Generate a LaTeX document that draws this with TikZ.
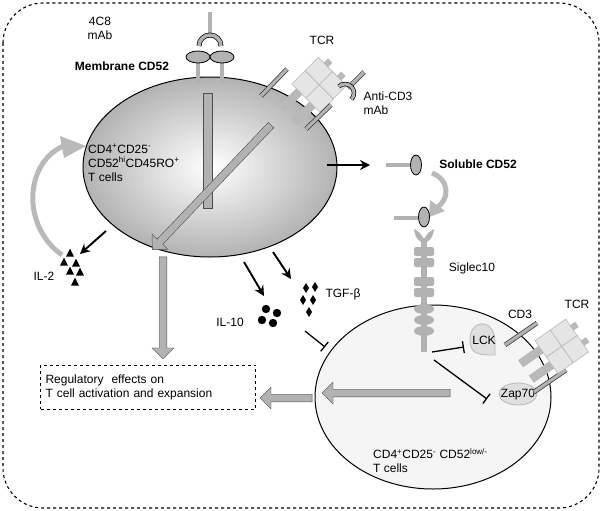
\documentclass[tikz,border=0pt]{standalone}
\usepackage{fontspec}
\setmainfont{Liberation Sans}
\usetikzlibrary{shapes.arrows,arrows.meta,shapes.geometric}
\begin{document}
\begin{tikzpicture}[x=1pt,y=-1pt,font=\fontsize{12}{14}\selectfont,
  rod/.style={double=gray!60,double distance=3.2pt,line width=0.7pt,draw=black!80},
  garrow/.style={single arrow,draw=black!70,fill=gray!60,inner sep=3.6pt,minimum width=17pt,single arrow head indent=0pt,minimum height=#1,anchor=center},
  blk/.style={-{Stealth[length=10pt,width=10pt]},line width=1.9pt},
  inh/.style={-{Bar[width=12pt]},line width=1.3pt},
  sq/.style={fill=gray!20,draw=gray!55,line width=0.6pt},
  tcr/.pic={
    \fill[gray!55] (-11,2) rectangle (-4,-22);
    \fill[gray!55] (4,2) rectangle (11,-22);
    \draw[sq] (-16,-18) rectangle (0,-33); \draw[sq] (-16,-33) rectangle (0,-48);
    \draw[sq] (0,-18) rectangle (16,-33); \draw[sq] (0,-33) rectangle (16,-48);
    \fill[gray!55] (-10,-48) rectangle (-5,-53); \fill[gray!55] (5,-48) rectangle (10,-53);
  }]
\useasboundingbox (0,0) rectangle (602,511);
\draw[dashed,line width=1.1pt,rounded corners=40pt] (3,3) rectangle (599,508);

% upper cell
\shade[inner color=white,outer color=gray!60,draw=black,line width=1pt] (210,167) ellipse[x radius=127pt,y radius=90pt];
\node[align=left,anchor=north west,inner sep=0] (ct) at (88,144) {CD4\textsuperscript{+}CD25\textsuperscript{-}\\CD52\textsuperscript{hi}CD45RO\textsuperscript{+}\\T cells};
\node[font=\bfseries\fontsize{12}{14}\selectfont] (mcd) at (122,66) {Membrane CD52};
\node[align=center] (c48) at (100,28) {4C8\\mAb};
% CD52 on membrane
\foreach \x in {198,222}{
  \draw[rod] (\x,62) -- (\x,84);
  \draw[fill=gray!60,line width=0.8pt] (\x,57) ellipse[x radius=12pt,y radius=6pt];}
% 4C8 mAb
\draw[rod] (210,12) -- (210,34);
\draw[double=gray!60,double distance=3.5pt,line width=0.7pt] ([shift={(0:11pt)}]210,46) arc[start angle=0,end angle=180,radius=11pt];
% TCR top
\pic[rotate=-45,scale=1.25] at (290,114) {tcr};
\node (tcr1) at (322,40) {TCR};
\draw[rod] (261,96) -- (287,69);
\draw[rod] (306,129) -- (331,105);
\draw[rod] (348,88) -- (364,72);
\draw[double=gray!60,double distance=3pt,line width=0.7pt] ([shift={(-45:9pt)}]345,93) arc[start angle=-45,end angle=135,radius=9pt];
\node[align=left] (acd3) at (388,103) {Anti-CD3\\mAb};
% internal gray arrows
\draw[fill=gray!60,draw=black!70] (203,93) rectangle (212,208);
\node[garrow=172pt,rotate=226.4] (da) at (213,186) {};
\node[garrow=102pt,rotate=-90] (va) at (163,306) {};

% IL-2
\coordinate (il2a) at (106,231);
\draw[blk] (il2a) -- (80,254);
\foreach \p in {(70,253),(64,262),(76,263),(70,271),(80,272),(75,282)}
  \fill \p ++(0,-4.5) -- ++(4,8) -- ++(-8,0) -- cycle;
\node (il2) at (44,276) {IL-2};
\draw[gray!55,line width=5pt] (62,255) .. controls (20,225) and (25,160) .. (66,145);
\fill[gray!55] (60,136) -- (86,146) -- (64,158) -- cycle;

% IL-10 TGF
\draw[blk] (244,262) -- (264,296);
\draw[blk] (273,252) -- (291,279);
\foreach \p in {(266,309),(277,313),(262,320),(273,323)} \fill \p circle (4.2pt);
\node (il10) at (230,322) {IL-10};
\foreach \p in {(306,288),(315,287),(303,300),(313,300),(309,312)}
  \fill \p ++(0,-5) -- ++(3,5) -- ++(-3,5) -- ++(-3,-5) -- cycle;
\node (tgf) at (343,294) {TGF-β};
\draw[inh] (305,331) -- (325,347);

% soluble CD52
\draw[blk] (327,165) -- (370,165);
\draw[rod] (386,165) -- (410,165);
\draw[fill=gray!60,line width=0.8pt] (416,165) ellipse[x radius=5.5pt,y radius=10pt];
\node[font=\bfseries\fontsize{12}{14}\selectfont] (scd) at (478,164) {Soluble CD52};
\draw[gray!55,line width=5pt] (432,173) .. controls (450,180) and (450,200) .. (436,208);
\fill[gray!55] (430,200) -- (429,217) -- (445,211) -- cycle;
\draw[rod] (394,218) -- (418,218);
\draw[fill=gray!60,line width=0.8pt] (424,217) ellipse[x radius=5.5pt,y radius=10pt];

% lower cell
\draw[fill=gray!8,line width=1pt] (433,397) ellipse[x radius=118pt,y radius=92pt];
% Siglec10
\fill[gray!60] (414,229) .. controls (416,247) and (432,247) .. (434,229) -- (428,233) -- (424,239) -- (420,233) -- cycle;
\fill[gray!60] (421,238) rectangle (427,352);
\foreach \y in {247,258,277,288} \fill[gray!60,rounded corners=2pt] (414,\y) rectangle (434,\y+9);
\foreach \y in {309,320,331} \fill[gray!60] (424,\y) ellipse[x radius=10pt,y radius=5pt];
\node (sig) at (472,268) {Siglec10};
% LCK / Zap70
\draw[fill=gray!25,draw=gray!55,line width=0.8pt] (495,355) -- (495,342) .. controls (495,318) and (470,318) .. (470,340) .. controls (470,355) and (480,355) .. cycle;
\node (lck) at (484,340) {LCK};
\draw[fill=gray!25,draw=gray!55,line width=0.8pt] (518,394) ellipse[x radius=19pt,y radius=11pt];
\node (zap) at (518,395) {Zap70};
\draw[rod] (505,345) -- (537,323);
\draw[rod] (534,392) -- (566,370);
\pic[rotate=-55,scale=1.25] at (528,370) {tcr};
\node (cd3) at (520,314) {CD3};
\node (tcr2) at (577,304) {TCR};
\draw[inh] (432,352) -- (464,347);
\draw[inh] (434,360) -- (487,399);
\node[garrow=128pt,rotate=180] (la) at (388,393) {};
\node[garrow=52pt,rotate=180] (oa) at (288,398) {};
\node[align=left,anchor=north west,inner sep=0] (ct2) at (373,448) {CD4\textsuperscript{+}CD25\textsuperscript{-} CD52\textsuperscript{low/-}\\T cells};

% regulatory box
\node[draw,dashed,align=left,minimum width=215pt,minimum height=44pt,inner sep=3pt,text width=205pt] (reg) at (148,387) {Regulatory\ \ effects on\\T cell activation and expansion};
\end{tikzpicture}
\end{document}
